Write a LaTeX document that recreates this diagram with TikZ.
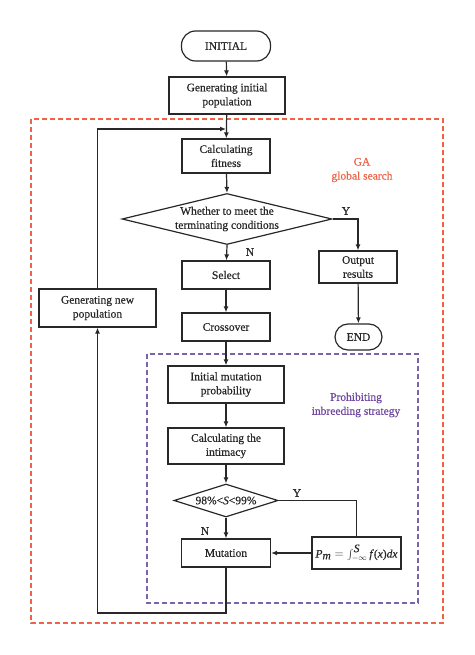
\documentclass[tikz,border=0pt]{standalone}
\usepackage{fontspec}
\setmainfont{Liberation Serif}[FakeBold=0.5]
\usetikzlibrary{shapes.geometric,arrows.meta}
\definecolor{gared}{RGB}{236,100,72}
\definecolor{gapurple}{RGB}{120,100,170}
\definecolor{gatext}{RGB}{112,72,160}
\definecolor{lineg}{RGB}{40,40,40}
\begin{document}
\begin{tikzpicture}[x=1pt,y=-1pt,
  every node/.style={font=\fontsize{11.5}{14}\selectfont, text=lineg},
  box/.style={draw=lineg, line width=1.2pt, rectangle, inner sep=0pt, align=center},
  term/.style={box, rounded corners=14pt},
  decision/.style={draw=lineg, line width=1.2pt, diamond, inner sep=0pt},
  arr/.style={draw=lineg, line width=1.2pt, -{Latex[length=6pt,width=5pt]}},
  conn/.style={draw=lineg, line width=1.2pt},
  region/.style={line width=1.3pt, dash pattern=on 5pt off 3pt}]
\useasboundingbox (0,0) rectangle (474,655);
% regions
\draw[region, draw=gared] (31,119) rectangle (443,623);
\draw[region, draw=gapurple] (147,354) rectangle (418,603);
\node[text=gared, align=center] (gatitle) at (362,170) {GA\\global search};
\node[text=gatext, align=center] (pititle) at (356,405) {Prohibiting\\inbreeding strategy};
% nodes
\node[term, minimum width=89pt, minimum height=30pt] (init) at (226,46) {INITIAL};
\node[box, minimum width=116pt, minimum height=37pt] (geninit) at (227,95.5) {Generating initial\\population};
\node[box, minimum width=88pt, minimum height=34pt] (fitness) at (226,156) {Calculating\\fitness};
\node[decision, minimum width=210pt, minimum height=51pt, shape aspect=4.1,
  label={[align=center]center:Whether to meet the\\terminating conditions}] (cond) at (227,219) {};
\node[box, minimum width=78pt, minimum height=32pt] (output) at (358,267) {Output\\results};
\node[term, rounded corners=13pt, minimum width=47pt, minimum height=26pt] (end) at (358.5,337) {END};
\node[box, minimum width=88pt, minimum height=28pt] (select) at (226,275) {Select};
\node[box, minimum width=88pt, minimum height=28pt] (cross) at (226,327) {Crossover};
\node[box, minimum width=117pt, minimum height=38pt] (gennew) at (97.5,308) {Generating new\\population};
\node[box, minimum width=116pt, minimum height=37pt] (initmut) at (226,384.5) {Initial mutation\\probability};
\node[box, minimum width=116pt, minimum height=36pt] (intim) at (226,446) {Calculating the\\intimacy};
\node[decision, minimum width=104pt, minimum height=33pt, shape aspect=3.15] (sdiam) at (226,500.5) {98\%<\textit{S}<99\%};
\node[box, minimum width=89pt, minimum height=28pt] (mut) at (226,553) {Mutation};
\node[box, minimum width=89pt, minimum height=32pt] (pm) at (356.5,553) {\textit{P}$_{\textit{m}}=\int_{-\infty}^{\textit{S}}$\,\textit{f}(\textit{x})\textit{dx}};
\coordinate (join) at (226,129);
\coordinate (corner) at (226,613);
% connectors
\draw[arr] (init) -- (geninit);
\draw[arr] (geninit) -- (fitness);
\draw[arr] (gennew.north) |- (join);
\draw[arr] (fitness) -- (cond.north);
\draw[arr] (cond.east) -| (output.north);
\node (ylab1) at (346,211) {Y};
\draw[arr] (output) -- (end);
\draw[arr] (cond.south) -- (select);
\node (nlab1) at (250,252) {N};
\draw[arr] (select) -- (cross);
\draw[arr] (cross) -- (initmut);
\draw[arr] (initmut) -- (intim);
\draw[arr] (intim) -- (sdiam.north);
\draw[conn] (sdiam.east) -| (pm.north);
\node (ylab2) at (297,493) {Y};
\draw[arr] (sdiam.south) -- (mut);
\node (nlab2) at (205,531) {N};
\draw[arr] (pm) -- (mut);
\draw[arr] (mut.south) -- (corner) -| (gennew.south);
\end{tikzpicture}
\end{document}
